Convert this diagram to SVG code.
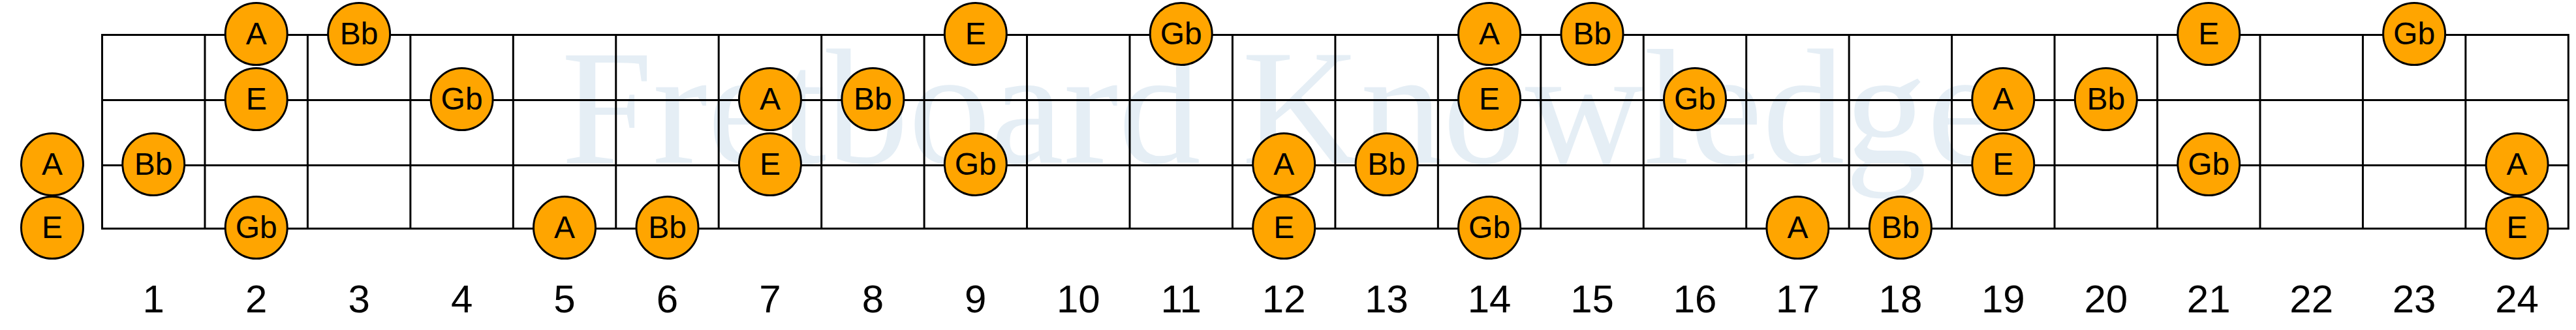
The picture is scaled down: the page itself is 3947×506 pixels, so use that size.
<svg xmlns="http://www.w3.org/2000/svg" width="3947" height="506" viewBox="0 0 3947 506">
<style>
.wm{font-family:"Liberation Serif","Times New Roman",serif;font-size:252px;fill:#e5eef5}
.grid{stroke:#000;stroke-width:3;fill:none;stroke-linecap:square}
.n circle{fill:#ffa500;stroke:#000;stroke-width:3}
.n text{font-family:"Liberation Sans",Arial,sans-serif;font-size:48px;fill:#000;text-anchor:middle}
.fn{font-family:"Liberation Sans",Arial,sans-serif;font-size:60px;fill:#000;text-anchor:middle}
</style>
<rect width="3947" height="506" fill="#fff"/>
<text class="wm" x="860" y="250">Fretboard Knowledge</text>
<g id="connectors">
<path class="grid" d="M156.5 53.5H3935.3M156.5 153.5H3935.3M156.5 253.5H3935.3M156.5 350.5H3935.3
M156.5 53.5V350.5M313.95 53.5V350.5M471.4 53.5V350.5M628.85 53.5V350.5M786.3 53.5V350.5M943.75 53.5V350.5M1101.2 53.5V350.5M1258.65 53.5V350.5M1416.1 53.5V350.5M1573.55 53.5V350.5M1731 53.5V350.5M1888.45 53.5V350.5M2045.9 53.5V350.5M2203.35 53.5V350.5M2360.8 53.5V350.5M2518.25 53.5V350.5M2675.7 53.5V350.5M2833.15 53.5V350.5M2990.6 53.5V350.5M3148.05 53.5V350.5M3305.5 53.5V350.5M3462.95 53.5V350.5M3620.4 53.5V350.5M3777.85 53.5V350.5M3935.3 53.5V350.5"/>
</g>
<g id="fret-numbers">
<text class="fn" x="235.2" y="479">1</text>
<text class="fn" x="392.7" y="479">2</text>
<text class="fn" x="550.1" y="479">3</text>
<text class="fn" x="707.6" y="479">4</text>
<text class="fn" x="865" y="479">5</text>
<text class="fn" x="1022.5" y="479">6</text>
<text class="fn" x="1179.9" y="479">7</text>
<text class="fn" x="1337.4" y="479">8</text>
<text class="fn" x="1494.8" y="479">9</text>
<text class="fn" x="1652.3" y="479">10</text>
<text class="fn" x="1809.7" y="479">11</text>
<text class="fn" x="1967.2" y="479">12</text>
<text class="fn" x="2124.6" y="479">13</text>
<text class="fn" x="2282.1" y="479">14</text>
<text class="fn" x="2439.5" y="479">15</text>
<text class="fn" x="2597" y="479">16</text>
<text class="fn" x="2754.4" y="479">17</text>
<text class="fn" x="2911.9" y="479">18</text>
<text class="fn" x="3069.3" y="479">19</text>
<text class="fn" x="3226.8" y="479">20</text>
<text class="fn" x="3384.2" y="479">21</text>
<text class="fn" x="3541.7" y="479">22</text>
<text class="fn" x="3699.1" y="479">23</text>
<text class="fn" x="3856.6" y="479">24</text>
</g>
<!-- String G (top) -->
<g id="g-2" class="n"><circle cx="392.7" cy="52" r="47.5"/><text x="392.7" y="68">A</text></g>
<g id="g-3" class="n"><circle cx="550.1" cy="52" r="47.5"/><text x="550.1" y="68">Bb</text></g>
<g id="g-9" class="n"><circle cx="1494.8" cy="52" r="47.5"/><text x="1494.8" y="68">E</text></g>
<g id="g-11" class="n"><circle cx="1809.7" cy="52" r="47.5"/><text x="1809.7" y="68">Gb</text></g>
<g id="g-14" class="n"><circle cx="2282.1" cy="52" r="47.5"/><text x="2282.1" y="68">A</text></g>
<g id="g-15" class="n"><circle cx="2439.5" cy="52" r="47.5"/><text x="2439.5" y="68">Bb</text></g>
<g id="g-21" class="n"><circle cx="3384.2" cy="52" r="47.5"/><text x="3384.2" y="68">E</text></g>
<g id="g-23" class="n"><circle cx="3699.1" cy="52" r="47.5"/><text x="3699.1" y="68">Gb</text></g>
<!-- String D -->
<g id="d-2" class="n"><circle cx="392.7" cy="152" r="47.5"/><text x="392.7" y="168">E</text></g>
<g id="d-4" class="n"><circle cx="707.6" cy="152" r="47.5"/><text x="707.6" y="168">Gb</text></g>
<g id="d-7" class="n"><circle cx="1179.9" cy="152" r="47.5"/><text x="1179.9" y="168">A</text></g>
<g id="d-8" class="n"><circle cx="1337.4" cy="152" r="47.5"/><text x="1337.4" y="168">Bb</text></g>
<g id="d-14" class="n"><circle cx="2282.1" cy="152" r="47.5"/><text x="2282.1" y="168">E</text></g>
<g id="d-16" class="n"><circle cx="2597" cy="152" r="47.5"/><text x="2597" y="168">Gb</text></g>
<g id="d-19" class="n"><circle cx="3069.3" cy="152" r="47.5"/><text x="3069.3" y="168">A</text></g>
<g id="d-20" class="n"><circle cx="3226.8" cy="152" r="47.5"/><text x="3226.8" y="168">Bb</text></g>
<!-- String A -->
<g id="a-0" class="n"><circle cx="80" cy="252" r="47.5"/><text x="80" y="268">A</text></g>
<g id="a-1" class="n"><circle cx="235.2" cy="252" r="47.5"/><text x="235.2" y="268">Bb</text></g>
<g id="a-7" class="n"><circle cx="1179.9" cy="252" r="47.5"/><text x="1179.9" y="268">E</text></g>
<g id="a-9" class="n"><circle cx="1494.8" cy="252" r="47.5"/><text x="1494.8" y="268">Gb</text></g>
<g id="a-12" class="n"><circle cx="1967.2" cy="252" r="47.5"/><text x="1967.2" y="268">A</text></g>
<g id="a-13" class="n"><circle cx="2124.6" cy="252" r="47.5"/><text x="2124.6" y="268">Bb</text></g>
<g id="a-19" class="n"><circle cx="3069.3" cy="252" r="47.5"/><text x="3069.3" y="268">E</text></g>
<g id="a-21" class="n"><circle cx="3384.2" cy="252" r="47.5"/><text x="3384.2" y="268">Gb</text></g>
<g id="a-24" class="n"><circle cx="3856.6" cy="252" r="47.5"/><text x="3856.6" y="268">A</text></g>
<!-- String E (bottom) -->
<g id="e-0" class="n"><circle cx="80" cy="349" r="47.5"/><text x="80" y="365">E</text></g>
<g id="e-2" class="n"><circle cx="392.7" cy="349" r="47.5"/><text x="392.7" y="365">Gb</text></g>
<g id="e-5" class="n"><circle cx="865" cy="349" r="47.5"/><text x="865" y="365">A</text></g>
<g id="e-6" class="n"><circle cx="1022.5" cy="349" r="47.5"/><text x="1022.5" y="365">Bb</text></g>
<g id="e-12" class="n"><circle cx="1967.2" cy="349" r="47.5"/><text x="1967.2" y="365">E</text></g>
<g id="e-14" class="n"><circle cx="2282.1" cy="349" r="47.5"/><text x="2282.1" y="365">Gb</text></g>
<g id="e-17" class="n"><circle cx="2754.4" cy="349" r="47.5"/><text x="2754.4" y="365">A</text></g>
<g id="e-18" class="n"><circle cx="2911.9" cy="349" r="47.5"/><text x="2911.9" y="365">Bb</text></g>
<g id="e-24" class="n"><circle cx="3856.6" cy="349" r="47.5"/><text x="3856.6" y="365">E</text></g>
</svg>
